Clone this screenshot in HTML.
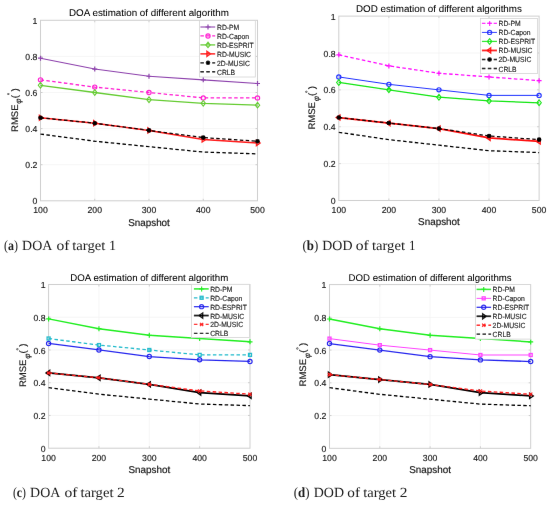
<!DOCTYPE html>
<html><head><meta charset="utf-8"><style>
html,body{margin:0;padding:0;background:#fff;}
svg{display:block;will-change:transform;}
text{font-family:"Liberation Sans", sans-serif;text-rendering:geometricPrecision;}
</style></head><body>
<svg width="550" height="505" viewBox="0 0 550 505">
<defs><filter id="sb" x="-2%" y="-2%" width="104%" height="104%"><feConvolveMatrix order="3" kernelMatrix="0.00087 0.02776 0.00087 0.02776 0.88549 0.02776 0.00087 0.02776 0.00087" preserveAlpha="false" edgeMode="duplicate"/></filter></defs>
<rect width="550" height="505" fill="#fff"/>
<g filter="url(#sb)">
<path d="M94.75 20.30V200.80 M149.00 20.30V200.80 M203.25 20.30V200.80 M40.50 164.70H257.50 M40.50 128.60H257.50 M40.50 92.50H257.50 M40.50 56.40H257.50" stroke="#f2f2f2" stroke-width="0.7" fill="none"/>
<path d="M94.75 200.80V198.80M94.75 20.30V22.30 M149.00 200.80V198.80M149.00 20.30V22.30 M203.25 200.80V198.80M203.25 20.30V22.30 M40.50 164.70H42.50M257.50 164.70H255.50 M40.50 128.60H42.50M257.50 128.60H255.50 M40.50 92.50H42.50M257.50 92.50H255.50 M40.50 56.40H42.50M257.50 56.40H255.50" stroke="#bbbbbb" stroke-width="0.7" fill="none"/>
<rect x="40.50" y="20.30" width="217.00" height="180.50" stroke="#cfcfcf" stroke-width="1" fill="none"/>
<text x="40.50" y="213.30" font-size="8.7" text-anchor="middle" fill="#1c1c1c" stroke="#1c1c1c" stroke-width="0.15">100</text>
<text x="94.75" y="213.30" font-size="8.7" text-anchor="middle" fill="#1c1c1c" stroke="#1c1c1c" stroke-width="0.15">200</text>
<text x="149.00" y="213.30" font-size="8.7" text-anchor="middle" fill="#1c1c1c" stroke="#1c1c1c" stroke-width="0.15">300</text>
<text x="203.25" y="213.30" font-size="8.7" text-anchor="middle" fill="#1c1c1c" stroke="#1c1c1c" stroke-width="0.15">400</text>
<text x="257.50" y="213.30" font-size="8.7" text-anchor="middle" fill="#1c1c1c" stroke="#1c1c1c" stroke-width="0.15">500</text>
<text x="37.40" y="204.40" font-size="8.7" text-anchor="end" fill="#1c1c1c" stroke="#1c1c1c" stroke-width="0.15">0</text>
<text x="37.40" y="168.30" font-size="8.7" text-anchor="end" fill="#1c1c1c" stroke="#1c1c1c" stroke-width="0.15">0.2</text>
<text x="37.40" y="132.20" font-size="8.7" text-anchor="end" fill="#1c1c1c" stroke="#1c1c1c" stroke-width="0.15">0.4</text>
<text x="37.40" y="96.10" font-size="8.7" text-anchor="end" fill="#1c1c1c" stroke="#1c1c1c" stroke-width="0.15">0.6</text>
<text x="37.40" y="60.00" font-size="8.7" text-anchor="end" fill="#1c1c1c" stroke="#1c1c1c" stroke-width="0.15">0.8</text>
<text x="37.40" y="23.90" font-size="8.7" text-anchor="end" fill="#1c1c1c" stroke="#1c1c1c" stroke-width="0.15">1</text>
<text x="149.00" y="16.40" font-size="9.8" text-anchor="middle" fill="#000" stroke="#000" stroke-width="0.05">DOA estimation of different algorithm</text>
<text x="149.00" y="225.50" font-size="9.9" text-anchor="middle" fill="#1c1c1c" stroke="#1c1c1c" stroke-width="0.2">Snapshot</text>
<g transform="translate(17.70,131.90) rotate(-90)" fill="#1c1c1c" stroke="#1c1c1c" stroke-width="0.15"><text x="0" y="0" font-size="9.5">RMSE</text><text x="28.2" y="3.6" font-size="8" font-style="italic">φ</text><text x="33.6" y="0" font-size="9.5">(</text><text x="36.6" y="-5.4" font-size="6.5">°</text><text x="40.3" y="0" font-size="9.5">)</text></g>
<polyline points="40.50,58.21 94.75,69.04 149.00,76.26 203.25,79.87 257.50,83.48" stroke="#8e44ad" stroke-width="1.1" fill="none"/>
<path d="M38.00 58.21H43.00M40.50 55.71V60.71" stroke="#8e44ad" stroke-width="1.2" fill="none"/>
<path d="M92.25 69.04H97.25M94.75 66.54V71.54" stroke="#8e44ad" stroke-width="1.2" fill="none"/>
<path d="M146.50 76.26H151.50M149.00 73.76V78.76" stroke="#8e44ad" stroke-width="1.2" fill="none"/>
<path d="M200.75 79.87H205.75M203.25 77.37V82.37" stroke="#8e44ad" stroke-width="1.2" fill="none"/>
<path d="M255.00 83.48H260.00M257.50 80.98V85.98" stroke="#8e44ad" stroke-width="1.2" fill="none"/>
<polyline points="40.50,79.87 94.75,87.09 149.00,92.50 203.25,97.92 257.50,97.92" stroke="#ff1ed2" stroke-width="1.3" fill="none" stroke-dasharray="3.5,2.4"/>
<circle cx="40.50" cy="79.87" r="2.1" stroke="#ff1ed2" stroke-width="1.2" fill="none"/>
<circle cx="94.75" cy="87.09" r="2.1" stroke="#ff1ed2" stroke-width="1.2" fill="none"/>
<circle cx="149.00" cy="92.50" r="2.1" stroke="#ff1ed2" stroke-width="1.2" fill="none"/>
<circle cx="203.25" cy="97.92" r="2.1" stroke="#ff1ed2" stroke-width="1.2" fill="none"/>
<circle cx="257.50" cy="97.92" r="2.1" stroke="#ff1ed2" stroke-width="1.2" fill="none"/>
<polyline points="40.50,85.28 94.75,92.50 149.00,99.72 203.25,103.33 257.50,105.14" stroke="#66cc33" stroke-width="1.3" fill="none"/>
<path d="M40.50 82.48L42.70 85.28L40.50 88.08L38.30 85.28Z" stroke="#66cc33" stroke-width="1.1" fill="none"/>
<path d="M94.75 89.70L96.95 92.50L94.75 95.30L92.55 92.50Z" stroke="#66cc33" stroke-width="1.1" fill="none"/>
<path d="M149.00 96.92L151.20 99.72L149.00 102.52L146.80 99.72Z" stroke="#66cc33" stroke-width="1.1" fill="none"/>
<path d="M203.25 100.53L205.45 103.33L203.25 106.13L201.05 103.33Z" stroke="#66cc33" stroke-width="1.1" fill="none"/>
<path d="M257.50 102.34L259.70 105.14L257.50 107.94L255.30 105.14Z" stroke="#66cc33" stroke-width="1.1" fill="none"/>
<polyline points="40.50,117.77 94.75,123.19 149.00,130.41 203.25,139.43 257.50,143.04" stroke="#ff1a1a" stroke-width="1.5" fill="none"/>
<path d="M39.40 115.17L43.10 117.77L39.40 120.37Z" stroke="#ff1a1a" stroke-width="1.3" fill="none" stroke-linejoin="miter"/>
<path d="M93.65 120.59L97.35 123.19L93.65 125.79Z" stroke="#ff1a1a" stroke-width="1.3" fill="none" stroke-linejoin="miter"/>
<path d="M147.90 127.81L151.60 130.41L147.90 133.01Z" stroke="#ff1a1a" stroke-width="1.3" fill="none" stroke-linejoin="miter"/>
<path d="M202.15 136.83L205.85 139.43L202.15 142.03Z" stroke="#ff1a1a" stroke-width="1.3" fill="none" stroke-linejoin="miter"/>
<path d="M256.40 140.44L260.10 143.04L256.40 145.64Z" stroke="#ff1a1a" stroke-width="1.3" fill="none" stroke-linejoin="miter"/>
<polyline points="40.50,117.77 94.75,123.19 149.00,130.41 203.25,137.62 257.50,141.24" stroke="#000000" stroke-width="1.3" fill="none" stroke-dasharray="3.5,2.4"/>
<circle cx="40.50" cy="117.77" r="2.3" fill="#000000"/>
<circle cx="94.75" cy="123.19" r="2.3" fill="#000000"/>
<circle cx="149.00" cy="130.41" r="2.3" fill="#000000"/>
<circle cx="203.25" cy="137.62" r="2.3" fill="#000000"/>
<circle cx="257.50" cy="141.24" r="2.3" fill="#000000"/>
<polyline points="40.50,134.02 94.75,141.24 149.00,146.65 203.25,152.06 257.50,153.87" stroke="#000000" stroke-width="1.3" fill="none" stroke-dasharray="3.5,2.4"/>





<rect x="199.40" y="20.50" width="55.90" height="56.50" stroke="#d4d4d4" stroke-width="0.8" fill="#fff"/>
<path d="M200.40 27.00H215.20" stroke="#8e44ad" stroke-width="1.1"/>
<path d="M205.50 27.00H210.50M208.00 24.50V29.50" stroke="#8e44ad" stroke-width="1.2" fill="none"/>
<text transform="translate(217.00,30.00) scale(1,1.1)" x="0" y="0" font-size="6.8" fill="#111" stroke="#111" stroke-width="0.12">RD-PM</text>
<path d="M200.40 35.95H215.20" stroke="#ff1ed2" stroke-width="1.3" stroke-dasharray="3.5,2.4"/>
<circle cx="208.00" cy="35.95" r="2.1" stroke="#ff1ed2" stroke-width="1.2" fill="none"/>
<text transform="translate(217.00,38.95) scale(1,1.1)" x="0" y="0" font-size="6.8" fill="#111" stroke="#111" stroke-width="0.12">RD-Capon</text>
<path d="M200.40 44.90H215.20" stroke="#66cc33" stroke-width="1.3"/>
<path d="M208.00 42.10L210.20 44.90L208.00 47.70L205.80 44.90Z" stroke="#66cc33" stroke-width="1.1" fill="none"/>
<text transform="translate(217.00,47.90) scale(1,1.1)" x="0" y="0" font-size="6.8" fill="#111" stroke="#111" stroke-width="0.12">RD-ESPRIT</text>
<path d="M200.40 53.85H215.20" stroke="#ff1a1a" stroke-width="1.5"/>
<path d="M206.90 51.25L210.60 53.85L206.90 56.45Z" stroke="#ff1a1a" stroke-width="1.3" fill="none" stroke-linejoin="miter"/>
<text transform="translate(217.00,56.85) scale(1,1.1)" x="0" y="0" font-size="6.8" fill="#111" stroke="#111" stroke-width="0.12">RD-MUSIC</text>
<path d="M200.40 62.80H215.20" stroke="#000000" stroke-width="1.3" stroke-dasharray="3.5,2.4"/>
<circle cx="208.00" cy="62.80" r="2.3" fill="#000000"/>
<text transform="translate(217.00,65.80) scale(1,1.1)" x="0" y="0" font-size="6.8" fill="#111" stroke="#111" stroke-width="0.12">2D-MUSIC</text>
<path d="M200.40 71.75H215.20" stroke="#000000" stroke-width="1.3" stroke-dasharray="3.5,2.4"/>

<text transform="translate(217.00,74.75) scale(1,1.1)" x="0" y="0" font-size="6.8" fill="#111" stroke="#111" stroke-width="0.12">CRLB</text>
<g fill="#1a1a1a" font-size="14" style='font-family:"Liberation Serif", serif'>
<text x="4.10" y="250.20" textLength="13.90" lengthAdjust="spacingAndGlyphs" style='font-family:"Liberation Serif", serif'>(<tspan font-weight="bold">a</tspan>)</text>
<text x="22.10" y="250.20" textLength="30.20" lengthAdjust="spacingAndGlyphs" style='font-family:"Liberation Serif", serif'>DOA</text>
<text x="56.40" y="250.20" textLength="13.00" lengthAdjust="spacingAndGlyphs" style='font-family:"Liberation Serif", serif'>of</text>
<text x="72.30" y="250.20" textLength="33.10" lengthAdjust="spacingAndGlyphs" style='font-family:"Liberation Serif", serif'>target</text>
<text x="109.00" y="250.20" textLength="7.10" lengthAdjust="spacingAndGlyphs" style='font-family:"Liberation Serif", serif'>1</text>
</g>
<path d="M388.88 16.10V200.50 M438.95 16.10V200.50 M489.03 16.10V200.50 M338.80 163.62H539.10 M338.80 126.74H539.10 M338.80 89.86H539.10 M338.80 52.98H539.10" stroke="#f2f2f2" stroke-width="0.7" fill="none"/>
<path d="M388.88 200.50V198.50M388.88 16.10V18.10 M438.95 200.50V198.50M438.95 16.10V18.10 M489.03 200.50V198.50M489.03 16.10V18.10 M338.80 163.62H340.80M539.10 163.62H537.10 M338.80 126.74H340.80M539.10 126.74H537.10 M338.80 89.86H340.80M539.10 89.86H537.10 M338.80 52.98H340.80M539.10 52.98H537.10" stroke="#bbbbbb" stroke-width="0.7" fill="none"/>
<rect x="338.80" y="16.10" width="200.30" height="184.40" stroke="#cfcfcf" stroke-width="1" fill="none"/>
<text x="338.80" y="213.00" font-size="8.7" text-anchor="middle" fill="#1c1c1c" stroke="#1c1c1c" stroke-width="0.15">100</text>
<text x="388.88" y="213.00" font-size="8.7" text-anchor="middle" fill="#1c1c1c" stroke="#1c1c1c" stroke-width="0.15">200</text>
<text x="438.95" y="213.00" font-size="8.7" text-anchor="middle" fill="#1c1c1c" stroke="#1c1c1c" stroke-width="0.15">300</text>
<text x="489.03" y="213.00" font-size="8.7" text-anchor="middle" fill="#1c1c1c" stroke="#1c1c1c" stroke-width="0.15">400</text>
<text x="539.10" y="213.00" font-size="8.7" text-anchor="middle" fill="#1c1c1c" stroke="#1c1c1c" stroke-width="0.15">500</text>
<text x="335.70" y="204.10" font-size="8.7" text-anchor="end" fill="#1c1c1c" stroke="#1c1c1c" stroke-width="0.15">0</text>
<text x="335.70" y="167.22" font-size="8.7" text-anchor="end" fill="#1c1c1c" stroke="#1c1c1c" stroke-width="0.15">0.2</text>
<text x="335.70" y="130.34" font-size="8.7" text-anchor="end" fill="#1c1c1c" stroke="#1c1c1c" stroke-width="0.15">0.4</text>
<text x="335.70" y="93.46" font-size="8.7" text-anchor="end" fill="#1c1c1c" stroke="#1c1c1c" stroke-width="0.15">0.6</text>
<text x="335.70" y="56.58" font-size="8.7" text-anchor="end" fill="#1c1c1c" stroke="#1c1c1c" stroke-width="0.15">0.8</text>
<text x="335.70" y="19.70" font-size="8.7" text-anchor="end" fill="#1c1c1c" stroke="#1c1c1c" stroke-width="0.15">1</text>
<text x="438.95" y="12.20" font-size="9.8" text-anchor="middle" fill="#000" stroke="#000" stroke-width="0.05">DOD estimation of different algorithms</text>
<text x="438.95" y="225.20" font-size="9.9" text-anchor="middle" fill="#1c1c1c" stroke="#1c1c1c" stroke-width="0.2">Snapshot</text>
<g transform="translate(315.40,129.50) rotate(-90)" fill="#1c1c1c" stroke="#1c1c1c" stroke-width="0.15"><text x="0" y="0" font-size="9.5">RMSE</text><text x="28.2" y="3.6" font-size="8" font-style="italic">φ</text><text x="33.6" y="0" font-size="9.5">(</text><text x="36.6" y="-5.4" font-size="6.5">°</text><text x="40.3" y="0" font-size="9.5">)</text></g>
<polyline points="338.80,54.82 388.88,65.89 438.95,73.26 489.03,76.95 539.10,80.64" stroke="#ff10ff" stroke-width="1.3" fill="none" stroke-dasharray="3.5,2.4"/>
<path d="M336.30 54.82H341.30M338.80 52.32V57.32" stroke="#ff10ff" stroke-width="1.2" fill="none"/>
<path d="M386.38 65.89H391.38M388.88 63.39V68.39" stroke="#ff10ff" stroke-width="1.2" fill="none"/>
<path d="M436.45 73.26H441.45M438.95 70.76V75.76" stroke="#ff10ff" stroke-width="1.2" fill="none"/>
<path d="M486.53 76.95H491.53M489.03 74.45V79.45" stroke="#ff10ff" stroke-width="1.2" fill="none"/>
<path d="M536.60 80.64H541.60M539.10 78.14V83.14" stroke="#ff10ff" stroke-width="1.2" fill="none"/>
<polyline points="338.80,76.95 388.88,84.33 438.95,89.86 489.03,95.39 539.10,95.39" stroke="#2233ff" stroke-width="1.0" fill="none"/>
<circle cx="338.80" cy="76.95" r="2.1" stroke="#2233ff" stroke-width="1.2" fill="none"/>
<circle cx="388.88" cy="84.33" r="2.1" stroke="#2233ff" stroke-width="1.2" fill="none"/>
<circle cx="438.95" cy="89.86" r="2.1" stroke="#2233ff" stroke-width="1.2" fill="none"/>
<circle cx="489.03" cy="95.39" r="2.1" stroke="#2233ff" stroke-width="1.2" fill="none"/>
<circle cx="539.10" cy="95.39" r="2.1" stroke="#2233ff" stroke-width="1.2" fill="none"/>
<polyline points="338.80,82.48 388.88,89.86 438.95,97.24 489.03,100.92 539.10,102.77" stroke="#14e614" stroke-width="1.25" fill="none"/>
<path d="M338.80 79.68L341.00 82.48L338.80 85.28L336.60 82.48Z" stroke="#14e614" stroke-width="1.1" fill="none"/>
<path d="M388.88 87.06L391.07 89.86L388.88 92.66L386.68 89.86Z" stroke="#14e614" stroke-width="1.1" fill="none"/>
<path d="M438.95 94.44L441.15 97.24L438.95 100.04L436.75 97.24Z" stroke="#14e614" stroke-width="1.1" fill="none"/>
<path d="M489.03 98.12L491.23 100.92L489.03 103.72L486.83 100.92Z" stroke="#14e614" stroke-width="1.1" fill="none"/>
<path d="M539.10 99.97L541.30 102.77L539.10 105.57L536.90 102.77Z" stroke="#14e614" stroke-width="1.1" fill="none"/>
<polyline points="338.80,117.52 388.88,123.05 438.95,128.58 489.03,137.80 539.10,141.49" stroke="#ff1010" stroke-width="1.75" fill="none"/>
<path d="M339.90 114.92L336.20 117.52L339.90 120.12Z" stroke="#ff1010" stroke-width="1.3" fill="none" stroke-linejoin="miter"/>
<path d="M389.98 120.45L386.27 123.05L389.98 125.65Z" stroke="#ff1010" stroke-width="1.3" fill="none" stroke-linejoin="miter"/>
<path d="M440.05 125.98L436.35 128.58L440.05 131.18Z" stroke="#ff1010" stroke-width="1.3" fill="none" stroke-linejoin="miter"/>
<path d="M490.13 135.20L486.43 137.80L490.13 140.40Z" stroke="#ff1010" stroke-width="1.3" fill="none" stroke-linejoin="miter"/>
<path d="M540.20 138.89L536.50 141.49L540.20 144.09Z" stroke="#ff1010" stroke-width="1.3" fill="none" stroke-linejoin="miter"/>
<polyline points="338.80,117.52 388.88,123.05 438.95,128.58 489.03,135.96 539.10,139.65" stroke="#000000" stroke-width="1.3" fill="none" stroke-dasharray="3.5,2.4"/>
<circle cx="338.80" cy="117.52" r="2.3" fill="#000000"/>
<circle cx="388.88" cy="123.05" r="2.3" fill="#000000"/>
<circle cx="438.95" cy="128.58" r="2.3" fill="#000000"/>
<circle cx="489.03" cy="135.96" r="2.3" fill="#000000"/>
<circle cx="539.10" cy="139.65" r="2.3" fill="#000000"/>
<polyline points="338.80,132.27 388.88,139.65 438.95,145.18 489.03,150.71 539.10,152.56" stroke="#000000" stroke-width="1.3" fill="none" stroke-dasharray="3.5,2.4"/>





<rect x="480.40" y="18.50" width="57.20" height="55.10" stroke="#d4d4d4" stroke-width="0.8" fill="#fff"/>
<path d="M481.90 23.40H497.00" stroke="#ff10ff" stroke-width="1.3" stroke-dasharray="3.5,2.4"/>
<path d="M487.10 23.40H492.10M489.60 20.90V25.90" stroke="#ff10ff" stroke-width="1.2" fill="none"/>
<text transform="translate(498.50,26.40) scale(1,1.1)" x="0" y="0" font-size="6.8" fill="#111" stroke="#111" stroke-width="0.12">RD-PM</text>
<path d="M481.90 32.42H497.00" stroke="#2233ff" stroke-width="1.0"/>
<circle cx="489.60" cy="32.42" r="2.1" stroke="#2233ff" stroke-width="1.2" fill="none"/>
<text transform="translate(498.50,35.42) scale(1,1.1)" x="0" y="0" font-size="6.8" fill="#111" stroke="#111" stroke-width="0.12">RD-Capon</text>
<path d="M481.90 41.44H497.00" stroke="#14e614" stroke-width="1.25"/>
<path d="M489.60 38.64L491.80 41.44L489.60 44.24L487.40 41.44Z" stroke="#14e614" stroke-width="1.1" fill="none"/>
<text transform="translate(498.50,44.44) scale(1,1.1)" x="0" y="0" font-size="6.8" fill="#111" stroke="#111" stroke-width="0.12">RD-ESPRIT</text>
<path d="M481.90 50.46H497.00" stroke="#ff1010" stroke-width="1.75"/>
<path d="M490.70 47.86L487.00 50.46L490.70 53.06Z" stroke="#ff1010" stroke-width="1.3" fill="none" stroke-linejoin="miter"/>
<text transform="translate(498.50,53.46) scale(1,1.1)" x="0" y="0" font-size="6.8" fill="#111" stroke="#111" stroke-width="0.12">RD-MUSIC</text>
<path d="M481.90 59.48H497.00" stroke="#000000" stroke-width="1.3" stroke-dasharray="3.5,2.4"/>
<circle cx="489.60" cy="59.48" r="2.3" fill="#000000"/>
<text transform="translate(498.50,62.48) scale(1,1.1)" x="0" y="0" font-size="6.8" fill="#111" stroke="#111" stroke-width="0.12">2D-MUSIC</text>
<path d="M481.90 68.50H497.00" stroke="#000000" stroke-width="1.3" stroke-dasharray="3.5,2.4"/>

<text transform="translate(498.50,71.50) scale(1,1.1)" x="0" y="0" font-size="6.8" fill="#111" stroke="#111" stroke-width="0.12">CRLB</text>
<g fill="#1a1a1a" font-size="14" style='font-family:"Liberation Serif", serif'>
<text x="302.40" y="250.20" textLength="15.80" lengthAdjust="spacingAndGlyphs" style='font-family:"Liberation Serif", serif'>(<tspan font-weight="bold">b</tspan>)</text>
<text x="322.30" y="250.20" textLength="30.20" lengthAdjust="spacingAndGlyphs" style='font-family:"Liberation Serif", serif'>DOD</text>
<text x="355.80" y="250.20" textLength="13.00" lengthAdjust="spacingAndGlyphs" style='font-family:"Liberation Serif", serif'>of</text>
<text x="371.90" y="250.20" textLength="33.10" lengthAdjust="spacingAndGlyphs" style='font-family:"Liberation Serif", serif'>target</text>
<text x="409.00" y="250.20" textLength="6.50" lengthAdjust="spacingAndGlyphs" style='font-family:"Liberation Serif", serif'>1</text>
</g>
<path d="M98.95 284.50V448.20 M149.30 284.50V448.20 M199.65 284.50V448.20 M48.60 415.46H250.00 M48.60 382.72H250.00 M48.60 349.98H250.00 M48.60 317.24H250.00" stroke="#f2f2f2" stroke-width="0.7" fill="none"/>
<path d="M98.95 448.20V446.20M98.95 284.50V286.50 M149.30 448.20V446.20M149.30 284.50V286.50 M199.65 448.20V446.20M199.65 284.50V286.50 M48.60 415.46H50.60M250.00 415.46H248.00 M48.60 382.72H50.60M250.00 382.72H248.00 M48.60 349.98H50.60M250.00 349.98H248.00 M48.60 317.24H50.60M250.00 317.24H248.00" stroke="#bbbbbb" stroke-width="0.7" fill="none"/>
<rect x="48.60" y="284.50" width="201.40" height="163.70" stroke="#cfcfcf" stroke-width="1" fill="none"/>
<text x="48.60" y="460.70" font-size="8.7" text-anchor="middle" fill="#1c1c1c" stroke="#1c1c1c" stroke-width="0.15">100</text>
<text x="98.95" y="460.70" font-size="8.7" text-anchor="middle" fill="#1c1c1c" stroke="#1c1c1c" stroke-width="0.15">200</text>
<text x="149.30" y="460.70" font-size="8.7" text-anchor="middle" fill="#1c1c1c" stroke="#1c1c1c" stroke-width="0.15">300</text>
<text x="199.65" y="460.70" font-size="8.7" text-anchor="middle" fill="#1c1c1c" stroke="#1c1c1c" stroke-width="0.15">400</text>
<text x="250.00" y="460.70" font-size="8.7" text-anchor="middle" fill="#1c1c1c" stroke="#1c1c1c" stroke-width="0.15">500</text>
<text x="45.50" y="451.80" font-size="8.7" text-anchor="end" fill="#1c1c1c" stroke="#1c1c1c" stroke-width="0.15">0</text>
<text x="45.50" y="419.06" font-size="8.7" text-anchor="end" fill="#1c1c1c" stroke="#1c1c1c" stroke-width="0.15">0.2</text>
<text x="45.50" y="386.32" font-size="8.7" text-anchor="end" fill="#1c1c1c" stroke="#1c1c1c" stroke-width="0.15">0.4</text>
<text x="45.50" y="353.58" font-size="8.7" text-anchor="end" fill="#1c1c1c" stroke="#1c1c1c" stroke-width="0.15">0.6</text>
<text x="45.50" y="320.84" font-size="8.7" text-anchor="end" fill="#1c1c1c" stroke="#1c1c1c" stroke-width="0.15">0.8</text>
<text x="45.50" y="288.10" font-size="8.7" text-anchor="end" fill="#1c1c1c" stroke="#1c1c1c" stroke-width="0.15">1</text>
<text x="149.30" y="280.60" font-size="9.68" text-anchor="middle" fill="#000" stroke="#000" stroke-width="0.05">DOA estimation of different algorithm</text>
<text x="149.30" y="472.90" font-size="9.9" text-anchor="middle" fill="#1c1c1c" stroke="#1c1c1c" stroke-width="0.2">Snapshot</text>
<g transform="translate(26.00,387.00) rotate(-90)" fill="#1c1c1c" stroke="#1c1c1c" stroke-width="0.15"><text x="0" y="0" font-size="9.5">RMSE</text><text x="28.2" y="3.6" font-size="8" font-style="italic">φ</text><text x="33.6" y="0" font-size="9.5">(</text><text x="36.6" y="-5.4" font-size="6.5">°</text><text x="40.3" y="0" font-size="9.5">)</text></g>
<polyline points="48.60,318.88 98.95,328.70 149.30,335.25 199.65,338.52 250.00,341.79" stroke="#22ee22" stroke-width="1.5" fill="none"/>
<path d="M46.10 318.88H51.10M48.60 316.38V321.38" stroke="#22ee22" stroke-width="1.2" fill="none"/>
<path d="M96.45 328.70H101.45M98.95 326.20V331.20" stroke="#22ee22" stroke-width="1.2" fill="none"/>
<path d="M146.80 335.25H151.80M149.30 332.75V337.75" stroke="#22ee22" stroke-width="1.2" fill="none"/>
<path d="M197.15 338.52H202.15M199.65 336.02V341.02" stroke="#22ee22" stroke-width="1.2" fill="none"/>
<path d="M247.50 341.79H252.50M250.00 339.29V344.29" stroke="#22ee22" stroke-width="1.2" fill="none"/>
<polyline points="48.60,338.52 98.95,345.07 149.30,349.98 199.65,354.89 250.00,354.89" stroke="#22bbcc" stroke-width="1.3" fill="none" stroke-dasharray="3.5,2.4"/>
<rect x="47.10" y="337.02" width="3.00" height="3.00" stroke="#22bbcc" stroke-width="1.3" fill="none"/>
<rect x="97.45" y="343.57" width="3.00" height="3.00" stroke="#22bbcc" stroke-width="1.3" fill="none"/>
<rect x="147.80" y="348.48" width="3.00" height="3.00" stroke="#22bbcc" stroke-width="1.3" fill="none"/>
<rect x="198.15" y="353.39" width="3.00" height="3.00" stroke="#22bbcc" stroke-width="1.3" fill="none"/>
<rect x="248.50" y="353.39" width="3.00" height="3.00" stroke="#22bbcc" stroke-width="1.3" fill="none"/>
<polyline points="48.60,343.43 98.95,349.98 149.30,356.53 199.65,359.80 250.00,361.44" stroke="#2828ee" stroke-width="1.3" fill="none"/>
<circle cx="48.60" cy="343.43" r="2.1" stroke="#2828ee" stroke-width="1.2" fill="none"/>
<circle cx="98.95" cy="349.98" r="2.1" stroke="#2828ee" stroke-width="1.2" fill="none"/>
<circle cx="149.30" cy="356.53" r="2.1" stroke="#2828ee" stroke-width="1.2" fill="none"/>
<circle cx="199.65" cy="359.80" r="2.1" stroke="#2828ee" stroke-width="1.2" fill="none"/>
<circle cx="250.00" cy="361.44" r="2.1" stroke="#2828ee" stroke-width="1.2" fill="none"/>
<polyline points="48.60,372.90 98.95,377.81 149.30,384.36 199.65,392.54 250.00,395.82" stroke="#000000" stroke-width="1.7" fill="none"/>
<path d="M49.70 370.30L46.00 372.90L49.70 375.50Z" stroke="#000000" stroke-width="1.3" fill="none" stroke-linejoin="miter"/>
<path d="M100.05 375.21L96.35 377.81L100.05 380.41Z" stroke="#000000" stroke-width="1.3" fill="none" stroke-linejoin="miter"/>
<path d="M150.40 381.76L146.70 384.36L150.40 386.96Z" stroke="#000000" stroke-width="1.3" fill="none" stroke-linejoin="miter"/>
<path d="M200.75 389.94L197.05 392.54L200.75 395.14Z" stroke="#000000" stroke-width="1.3" fill="none" stroke-linejoin="miter"/>
<path d="M251.10 393.22L247.40 395.82L251.10 398.42Z" stroke="#000000" stroke-width="1.3" fill="none" stroke-linejoin="miter"/>
<polyline points="48.60,372.90 98.95,377.81 149.30,384.36 199.65,390.90 250.00,394.18" stroke="#ff1a1a" stroke-width="1.3" fill="none" stroke-dasharray="3.5,2.4"/>
<path d="M47.00 371.30L50.20 374.50M47.00 374.50L50.20 371.30" stroke="#ff1a1a" stroke-width="1.2" fill="none"/>
<path d="M97.35 376.21L100.55 379.41M97.35 379.41L100.55 376.21" stroke="#ff1a1a" stroke-width="1.2" fill="none"/>
<path d="M147.70 382.76L150.90 385.96M147.70 385.96L150.90 382.76" stroke="#ff1a1a" stroke-width="1.2" fill="none"/>
<path d="M198.05 389.30L201.25 392.50M198.05 392.50L201.25 389.30" stroke="#ff1a1a" stroke-width="1.2" fill="none"/>
<path d="M248.40 392.58L251.60 395.78M248.40 395.78L251.60 392.58" stroke="#ff1a1a" stroke-width="1.2" fill="none"/>
<polyline points="48.60,387.63 98.95,394.18 149.30,399.09 199.65,404.00 250.00,405.64" stroke="#000000" stroke-width="1.3" fill="none" stroke-dasharray="3.5,2.4"/>





<rect x="191.50" y="284.30" width="58.00" height="53.20" stroke="#d4d4d4" stroke-width="0.8" fill="#fff"/>
<path d="M193.90 288.90H208.70" stroke="#22ee22" stroke-width="1.5"/>
<path d="M199.10 288.90H204.10M201.60 286.40V291.40" stroke="#22ee22" stroke-width="1.2" fill="none"/>
<text transform="translate(210.20,291.90) scale(1,1.1)" x="0" y="0" font-size="6.8" fill="#111" stroke="#111" stroke-width="0.12">RD-PM</text>
<path d="M193.90 297.78H208.70" stroke="#22bbcc" stroke-width="1.3" stroke-dasharray="3.5,2.4"/>
<rect x="200.10" y="296.28" width="3.00" height="3.00" stroke="#22bbcc" stroke-width="1.3" fill="none"/>
<text transform="translate(210.20,300.78) scale(1,1.1)" x="0" y="0" font-size="6.8" fill="#111" stroke="#111" stroke-width="0.12">RD-Capon</text>
<path d="M193.90 306.66H208.70" stroke="#2828ee" stroke-width="1.3"/>
<circle cx="201.60" cy="306.66" r="2.1" stroke="#2828ee" stroke-width="1.2" fill="none"/>
<text transform="translate(210.20,309.66) scale(1,1.1)" x="0" y="0" font-size="6.8" fill="#111" stroke="#111" stroke-width="0.12">RD-ESPRIT</text>
<path d="M193.90 315.54H208.70" stroke="#000000" stroke-width="1.7"/>
<path d="M202.70 312.94L199.00 315.54L202.70 318.14Z" stroke="#000000" stroke-width="1.3" fill="none" stroke-linejoin="miter"/>
<text transform="translate(210.20,318.54) scale(1,1.1)" x="0" y="0" font-size="6.8" fill="#111" stroke="#111" stroke-width="0.12">RD-MUSIC</text>
<path d="M193.90 324.42H208.70" stroke="#ff1a1a" stroke-width="1.3" stroke-dasharray="3.5,2.4"/>
<path d="M200.00 322.82L203.20 326.02M200.00 326.02L203.20 322.82" stroke="#ff1a1a" stroke-width="1.2" fill="none"/>
<text transform="translate(210.20,327.42) scale(1,1.1)" x="0" y="0" font-size="6.8" fill="#111" stroke="#111" stroke-width="0.12">2D-MUSIC</text>
<path d="M193.90 333.30H208.70" stroke="#000000" stroke-width="1.3" stroke-dasharray="3.5,2.4"/>

<text transform="translate(210.20,336.30) scale(1,1.1)" x="0" y="0" font-size="6.8" fill="#111" stroke="#111" stroke-width="0.12">CRLB</text>
<g fill="#1a1a1a" font-size="14" style='font-family:"Liberation Serif", serif'>
<text x="12.90" y="497.40" textLength="13.10" lengthAdjust="spacingAndGlyphs" style='font-family:"Liberation Serif", serif'>(<tspan font-weight="bold">c</tspan>)</text>
<text x="30.10" y="497.40" textLength="30.20" lengthAdjust="spacingAndGlyphs" style='font-family:"Liberation Serif", serif'>DOA</text>
<text x="64.50" y="497.40" textLength="13.00" lengthAdjust="spacingAndGlyphs" style='font-family:"Liberation Serif", serif'>of</text>
<text x="80.40" y="497.40" textLength="33.10" lengthAdjust="spacingAndGlyphs" style='font-family:"Liberation Serif", serif'>target</text>
<text x="117.10" y="497.40" textLength="7.70" lengthAdjust="spacingAndGlyphs" style='font-family:"Liberation Serif", serif'>2</text>
</g>
<path d="M379.80 284.60V448.30 M430.10 284.60V448.30 M480.40 284.60V448.30 M329.50 415.56H530.70 M329.50 382.82H530.70 M329.50 350.08H530.70 M329.50 317.34H530.70" stroke="#f2f2f2" stroke-width="0.7" fill="none"/>
<path d="M379.80 448.30V446.30M379.80 284.60V286.60 M430.10 448.30V446.30M430.10 284.60V286.60 M480.40 448.30V446.30M480.40 284.60V286.60 M329.50 415.56H331.50M530.70 415.56H528.70 M329.50 382.82H331.50M530.70 382.82H528.70 M329.50 350.08H331.50M530.70 350.08H528.70 M329.50 317.34H331.50M530.70 317.34H528.70" stroke="#bbbbbb" stroke-width="0.7" fill="none"/>
<rect x="329.50" y="284.60" width="201.20" height="163.70" stroke="#cfcfcf" stroke-width="1" fill="none"/>
<text x="329.50" y="460.80" font-size="8.7" text-anchor="middle" fill="#1c1c1c" stroke="#1c1c1c" stroke-width="0.15">100</text>
<text x="379.80" y="460.80" font-size="8.7" text-anchor="middle" fill="#1c1c1c" stroke="#1c1c1c" stroke-width="0.15">200</text>
<text x="430.10" y="460.80" font-size="8.7" text-anchor="middle" fill="#1c1c1c" stroke="#1c1c1c" stroke-width="0.15">300</text>
<text x="480.40" y="460.80" font-size="8.7" text-anchor="middle" fill="#1c1c1c" stroke="#1c1c1c" stroke-width="0.15">400</text>
<text x="530.70" y="460.80" font-size="8.7" text-anchor="middle" fill="#1c1c1c" stroke="#1c1c1c" stroke-width="0.15">500</text>
<text x="326.40" y="451.90" font-size="8.7" text-anchor="end" fill="#1c1c1c" stroke="#1c1c1c" stroke-width="0.15">0</text>
<text x="326.40" y="419.16" font-size="8.7" text-anchor="end" fill="#1c1c1c" stroke="#1c1c1c" stroke-width="0.15">0.2</text>
<text x="326.40" y="386.42" font-size="8.7" text-anchor="end" fill="#1c1c1c" stroke="#1c1c1c" stroke-width="0.15">0.4</text>
<text x="326.40" y="353.68" font-size="8.7" text-anchor="end" fill="#1c1c1c" stroke="#1c1c1c" stroke-width="0.15">0.6</text>
<text x="326.40" y="320.94" font-size="8.7" text-anchor="end" fill="#1c1c1c" stroke="#1c1c1c" stroke-width="0.15">0.8</text>
<text x="326.40" y="288.20" font-size="8.7" text-anchor="end" fill="#1c1c1c" stroke="#1c1c1c" stroke-width="0.15">1</text>
<text x="430.10" y="280.70" font-size="9.65" text-anchor="middle" fill="#000" stroke="#000" stroke-width="0.05">DOD estimation of different algorithms</text>
<text x="430.10" y="473.00" font-size="9.9" text-anchor="middle" fill="#1c1c1c" stroke="#1c1c1c" stroke-width="0.2">Snapshot</text>
<g transform="translate(306.00,386.40) rotate(-90)" fill="#1c1c1c" stroke="#1c1c1c" stroke-width="0.15"><text x="0" y="0" font-size="9.5">RMSE</text><text x="28.2" y="3.6" font-size="8" font-style="italic">φ</text><text x="33.6" y="0" font-size="9.5">(</text><text x="36.6" y="-5.4" font-size="6.5">°</text><text x="40.3" y="0" font-size="9.5">)</text></g>
<polyline points="329.50,318.98 379.80,328.80 430.10,335.35 480.40,338.62 530.70,341.89" stroke="#22ee22" stroke-width="1.5" fill="none"/>
<path d="M327.00 318.98H332.00M329.50 316.48V321.48" stroke="#22ee22" stroke-width="1.2" fill="none"/>
<path d="M377.30 328.80H382.30M379.80 326.30V331.30" stroke="#22ee22" stroke-width="1.2" fill="none"/>
<path d="M427.60 335.35H432.60M430.10 332.85V337.85" stroke="#22ee22" stroke-width="1.2" fill="none"/>
<path d="M477.90 338.62H482.90M480.40 336.12V341.12" stroke="#22ee22" stroke-width="1.2" fill="none"/>
<path d="M528.20 341.89H533.20M530.70 339.39V344.39" stroke="#22ee22" stroke-width="1.2" fill="none"/>
<polyline points="329.50,338.62 379.80,345.17 430.10,350.08 480.40,354.99 530.70,354.99" stroke="#ff44ff" stroke-width="1.0" fill="none"/>
<rect x="328.00" y="337.12" width="3.00" height="3.00" stroke="#ff44ff" stroke-width="1.3" fill="none"/>
<rect x="378.30" y="343.67" width="3.00" height="3.00" stroke="#ff44ff" stroke-width="1.3" fill="none"/>
<rect x="428.60" y="348.58" width="3.00" height="3.00" stroke="#ff44ff" stroke-width="1.3" fill="none"/>
<rect x="478.90" y="353.49" width="3.00" height="3.00" stroke="#ff44ff" stroke-width="1.3" fill="none"/>
<rect x="529.20" y="353.49" width="3.00" height="3.00" stroke="#ff44ff" stroke-width="1.3" fill="none"/>
<polyline points="329.50,343.53 379.80,350.08 430.10,356.63 480.40,359.90 530.70,361.54" stroke="#2828ee" stroke-width="1.3" fill="none"/>
<circle cx="329.50" cy="343.53" r="2.1" stroke="#2828ee" stroke-width="1.2" fill="none"/>
<circle cx="379.80" cy="350.08" r="2.1" stroke="#2828ee" stroke-width="1.2" fill="none"/>
<circle cx="430.10" cy="356.63" r="2.1" stroke="#2828ee" stroke-width="1.2" fill="none"/>
<circle cx="480.40" cy="359.90" r="2.1" stroke="#2828ee" stroke-width="1.2" fill="none"/>
<circle cx="530.70" cy="361.54" r="2.1" stroke="#2828ee" stroke-width="1.2" fill="none"/>
<polyline points="329.50,374.63 379.80,379.55 430.10,384.46 480.40,392.64 530.70,395.92" stroke="#000000" stroke-width="1.7" fill="none"/>
<path d="M328.40 372.03L332.10 374.63L328.40 377.24Z" stroke="#000000" stroke-width="1.3" fill="none" stroke-linejoin="miter"/>
<path d="M378.70 376.95L382.40 379.55L378.70 382.15Z" stroke="#000000" stroke-width="1.3" fill="none" stroke-linejoin="miter"/>
<path d="M429.00 381.86L432.70 384.46L429.00 387.06Z" stroke="#000000" stroke-width="1.3" fill="none" stroke-linejoin="miter"/>
<path d="M479.30 390.04L483.00 392.64L479.30 395.24Z" stroke="#000000" stroke-width="1.3" fill="none" stroke-linejoin="miter"/>
<path d="M529.60 393.32L533.30 395.92L529.60 398.52Z" stroke="#000000" stroke-width="1.3" fill="none" stroke-linejoin="miter"/>
<polyline points="329.50,374.63 379.80,379.55 430.10,384.46 480.40,391.00 530.70,394.28" stroke="#ff1a1a" stroke-width="1.3" fill="none" stroke-dasharray="3.5,2.4"/>
<path d="M327.90 373.03L331.10 376.24M327.90 376.24L331.10 373.03" stroke="#ff1a1a" stroke-width="1.2" fill="none"/>
<path d="M378.20 377.95L381.40 381.15M378.20 381.15L381.40 377.95" stroke="#ff1a1a" stroke-width="1.2" fill="none"/>
<path d="M428.50 382.86L431.70 386.06M428.50 386.06L431.70 382.86" stroke="#ff1a1a" stroke-width="1.2" fill="none"/>
<path d="M478.80 389.40L482.00 392.61M478.80 392.61L482.00 389.40" stroke="#ff1a1a" stroke-width="1.2" fill="none"/>
<path d="M529.10 392.68L532.30 395.88M529.10 395.88L532.30 392.68" stroke="#ff1a1a" stroke-width="1.2" fill="none"/>
<polyline points="329.50,387.73 379.80,394.28 430.10,399.19 480.40,404.10 530.70,405.74" stroke="#000000" stroke-width="1.3" fill="none" stroke-dasharray="3.5,2.4"/>





<rect x="475.50" y="284.50" width="55.00" height="54.60" stroke="#d4d4d4" stroke-width="0.8" fill="#fff"/>
<path d="M476.60 289.40H491.10" stroke="#22ee22" stroke-width="1.5"/>
<path d="M481.20 289.40H486.20M483.70 286.90V291.90" stroke="#22ee22" stroke-width="1.2" fill="none"/>
<text transform="translate(492.60,292.40) scale(1,1.1)" x="0" y="0" font-size="6.8" fill="#111" stroke="#111" stroke-width="0.12">RD-PM</text>
<path d="M476.60 298.36H491.10" stroke="#ff44ff" stroke-width="1.0"/>
<rect x="482.20" y="296.86" width="3.00" height="3.00" stroke="#ff44ff" stroke-width="1.3" fill="none"/>
<text transform="translate(492.60,301.36) scale(1,1.1)" x="0" y="0" font-size="6.8" fill="#111" stroke="#111" stroke-width="0.12">RD-Capon</text>
<path d="M476.60 307.32H491.10" stroke="#2828ee" stroke-width="1.3"/>
<circle cx="483.70" cy="307.32" r="2.1" stroke="#2828ee" stroke-width="1.2" fill="none"/>
<text transform="translate(492.60,310.32) scale(1,1.1)" x="0" y="0" font-size="6.8" fill="#111" stroke="#111" stroke-width="0.12">RD-ESPRIT</text>
<path d="M476.60 316.28H491.10" stroke="#000000" stroke-width="1.7"/>
<path d="M482.60 313.68L486.30 316.28L482.60 318.88Z" stroke="#000000" stroke-width="1.3" fill="none" stroke-linejoin="miter"/>
<text transform="translate(492.60,319.28) scale(1,1.1)" x="0" y="0" font-size="6.8" fill="#111" stroke="#111" stroke-width="0.12">RD-MUSIC</text>
<path d="M476.60 325.24H491.10" stroke="#ff1a1a" stroke-width="1.3" stroke-dasharray="3.5,2.4"/>
<path d="M482.10 323.64L485.30 326.84M482.10 326.84L485.30 323.64" stroke="#ff1a1a" stroke-width="1.2" fill="none"/>
<text transform="translate(492.60,328.24) scale(1,1.1)" x="0" y="0" font-size="6.8" fill="#111" stroke="#111" stroke-width="0.12">2D-MUSIC</text>
<path d="M476.60 334.20H491.10" stroke="#000000" stroke-width="1.3" stroke-dasharray="3.5,2.4"/>

<text transform="translate(492.60,337.20) scale(1,1.1)" x="0" y="0" font-size="6.8" fill="#111" stroke="#111" stroke-width="0.12">CRLB</text>
<g fill="#1a1a1a" font-size="14" style='font-family:"Liberation Serif", serif'>
<text x="293.80" y="497.40" textLength="15.80" lengthAdjust="spacingAndGlyphs" style='font-family:"Liberation Serif", serif'>(<tspan font-weight="bold">d</tspan>)</text>
<text x="313.70" y="497.40" textLength="30.30" lengthAdjust="spacingAndGlyphs" style='font-family:"Liberation Serif", serif'>DOD</text>
<text x="347.30" y="497.40" textLength="12.70" lengthAdjust="spacingAndGlyphs" style='font-family:"Liberation Serif", serif'>of</text>
<text x="363.20" y="497.40" textLength="32.80" lengthAdjust="spacingAndGlyphs" style='font-family:"Liberation Serif", serif'>target</text>
<text x="399.70" y="497.40" textLength="7.70" lengthAdjust="spacingAndGlyphs" style='font-family:"Liberation Serif", serif'>2</text>
</g>
</g>
</svg>
</body></html>
